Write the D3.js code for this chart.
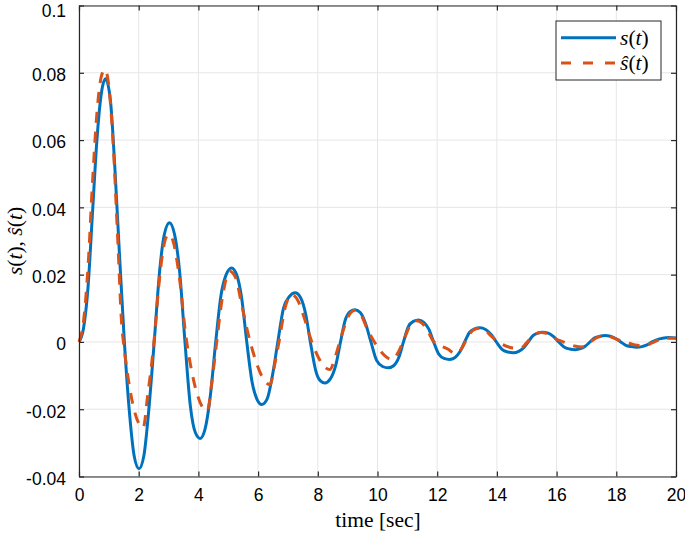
<!DOCTYPE html>
<html><head><meta charset="utf-8">
<script src="https://cdn.jsdelivr.net/npm/d3@7"></script>
<style>
body{margin:0;background:#fff;}
svg{display:block;}
</style></head>
<body>
<svg id="c" width="685" height="533"></svg>
<script>
// ---- data ----
const xTicks = [0,2,4,6,8,10,12,14,16,18,20];
const yTicks = [-0.04,-0.02,0,0.02,0.04,0.06,0.08,0.1];
const yTickLabels = ["-0.04","-0.02","0","0.02","0.04","0.06","0.08","0.1"];

const sT = [0,0.15,0.3,0.45,0.6,0.75,0.89,1.05,1.2,1.35,1.52,1.7,1.85,2.01,2.17,2.33,2.52,2.7,2.86,3.03,3.2,3.37,3.55,3.73,3.9,4.06,4.22,4.4,4.58,4.76,4.93,5.11,5.28,5.45,5.62,5.8,5.96,6.12,6.3,6.48,6.66,6.85,7.05,7.24,7.42,7.6,7.75,7.93,8.08,8.24,8.42,8.6,8.76,8.92,9.08,9.25,9.43,9.6,9.78,9.97,10.17,10.36,10.55,10.72,10.87,11.03,11.2,11.37,11.55,11.72,11.88,12.05,12.23,12.41,12.6,12.77,12.92,13.08,13.25,13.43,13.62,13.8,13.98,14.17,14.37,14.55,14.73,14.9,15.05,15.2,15.36,15.53,15.72,15.9,16.07,16.25,16.44,16.62,16.8,16.97,17.12,17.28,17.45,17.62,17.8,17.98,18.15,18.32,18.5,18.68,18.86,19.03,19.2,19.37,19.55,19.75,20];
const sV = [0,0.004,0.016,0.038,0.060,0.074,0.0782,0.072,0.052,0.027,0,-0.022,-0.034,-0.0377,-0.034,-0.021,0,0.021,0.032,0.0354,0.032,0.021,0,-0.019,-0.027,-0.0287,-0.026,-0.016,0,0.014,0.020,0.022,0.020,0.013,0,-0.012,-0.017,-0.0186,-0.017,-0.010,0,0.010,0.0135,0.0146,0.0132,0.008,0,-0.0085,-0.0115,-0.0122,-0.011,-0.007,0,0.0065,0.009,0.0096,0.0087,0.0055,0,-0.0055,-0.0073,-0.0077,-0.007,-0.0045,0,0.0045,0.0061,0.0065,0.0058,0.0038,0,-0.0036,-0.0049,-0.0052,-0.0046,-0.0028,0,0.0028,0.0039,0.0042,0.0037,0.0023,0,-0.0022,-0.003,-0.0032,-0.0028,-0.0017,0,0.0018,0.0026,0.0029,0.0026,0.0016,0,-0.0015,-0.0021,-0.0023,-0.002,-0.0012,0,0.0012,0.0017,0.0019,0.0017,0.001,0,-0.001,-0.0014,-0.0016,-0.0014,-0.0009,0,0.0007,0.0011,0.0013,0.0012];

const shT = [0,0.15,0.3,0.45,0.6,0.75,0.87,1.0,1.15,1.3,1.45,2.15,2.3,2.5,2.7,2.85,3.0,3.15,3.35,3.6,4.3,4.45,4.6,4.8,5.05,5.25,5.45,5.72,6.4,6.55,6.7,6.9,7.12,7.35,7.55,7.8,8.4,8.6,8.8,9.05,9.25,9.45,9.65,9.86,10.5,10.7,10.9,11.1,11.3,11.5,11.7,11.87,12.37,12.6,12.8,13.0,13.2,13.4,13.6,13.8,14.05,14.6,14.8,15.0,15.25,15.5,15.75,16.0,16.2,16.6,16.85,17.1,17.35,17.62,17.85,18.1,18.3,18.7,18.95,19.2,19.45,19.7,20];
const shV = [0,0.006,0.022,0.047,0.068,0.079,0.081,0.076,0.058,0.030,0.003,-0.0255,-0.016,-0.001,0.019,0.029,0.032,0.030,0.020,0.0005,-0.0205,-0.012,-0.001,0.013,0.021,0.019,0.011,0.0005,-0.0127,-0.007,0,0.010,0.0141,0.012,0.007,0.0,-0.0082,-0.004,0.002,0.008,0.0094,0.008,0.004,0.0005,-0.0052,-0.003,0.001,0.005,0.0063,0.0055,0.003,0.0002,-0.0022,-0.0035,-0.0022,0.001,0.0035,0.0041,0.0035,0.0018,0.0,-0.0018,-0.0018,-0.0002,0.0022,0.0028,0.0022,0.0008,0.0001,-0.0012,-0.0015,-0.0002,0.0013,0.0018,0.0014,0.0005,0.0,-0.001,-0.0011,-0.0003,0.0007,0.0011,0.0011];

// ---- layout ----
const L=79, R=676, T=5.5, B=476.5;
const svg = d3.select("#c");
const x = d3.scaleLinear().domain([0,20]).range([L,R]);
const y = d3.scaleLinear().domain([-0.04,0.1]).range([B,T]);
const axisColor = "#262626";

// grid
const g = svg.append("g");
g.selectAll(".gx").data(xTicks).join("line")
  .attr("x1",d=>x(d)).attr("x2",d=>x(d)).attr("y1",T).attr("y2",B)
  .attr("stroke","#e6e6e6").attr("stroke-width",1);
g.selectAll(".gy").data(yTicks).join("line")
  .attr("x1",L).attr("x2",R).attr("y1",d=>y(d)).attr("y2",d=>y(d))
  .attr("stroke","#e6e6e6").attr("stroke-width",1);

// lines
const sData = sT.map((t,i)=>[t,sV[i]]);
const shData = shT.map((t,i)=>[t,shV[i]]);
const line = d3.line().x(d=>x(d[0])).y(d=>y(d[1])).curve(d3.curveMonotoneX);
svg.append("path").attr("d",line(sData)).attr("fill","none")
  .attr("stroke","#0072BD").attr("stroke-width",3).attr("stroke-linejoin","round");
svg.append("path").attr("d",line(shData)).attr("fill","none")
  .attr("stroke","#D95319").attr("stroke-width",3).attr("stroke-dasharray","11,9");

// axes (MATLAB style: ticks inside, box)
const fontTick = "'Liberation Sans', Arial, Helvetica, sans-serif";
const ax = d3.axisBottom(x).tickValues(xTicks).tickSizeInner(-5).tickSizeOuter(0).tickPadding(12).tickFormat(d3.format("d"));
svg.append("g").attr("transform",`translate(0,${B})`).call(ax);
const ay = d3.axisLeft(y).tickValues(yTicks).tickSizeInner(-5).tickSizeOuter(0).tickPadding(13)
  .tickFormat((d,i)=>yTickLabels[i]);
const gyA = svg.append("g").attr("transform",`translate(${L},0)`).call(ay);
gyA.selectAll(".tick text").attr("dy",d=>d===0.1?"0.6em":"0.45em");
const axTop = d3.axisTop(x).tickValues(xTicks).tickSizeInner(-5).tickSizeOuter(0).tickFormat("");
svg.append("g").attr("transform",`translate(0,${T})`).call(axTop);
const ayR = d3.axisRight(y).tickValues(yTicks).tickSizeInner(-5).tickSizeOuter(0).tickFormat("");
svg.append("g").attr("transform",`translate(${R},0)`).call(ayR);
svg.selectAll(".domain").attr("stroke",axisColor).attr("stroke-width",1.2);
svg.selectAll(".tick line").attr("stroke",axisColor).attr("stroke-width",1.2);
svg.selectAll(".tick text").attr("fill","#000").style("font-family",fontTick).style("font-size","17.5px");

// axis labels
const serif = "'Liberation Serif', 'Times New Roman', serif";
svg.append("text").attr("x",378).attr("y",527).attr("text-anchor","middle")
  .style("font-family",serif).style("font-size","21.5px").text("time [sec]");
const yl = svg.append("text").attr("transform",`translate(22,${(T+B)/2}) rotate(-90)`)
  .attr("text-anchor","middle").style("font-family",serif).style("font-size","21.5px");
yl.append("tspan").style("font-style","italic").text("s");
yl.append("tspan").text("(");
yl.append("tspan").style("font-style","italic").text("t");
yl.append("tspan").text("), ");
yl.append("tspan").style("font-style","italic").text("ŝ");
yl.append("tspan").text("(");
yl.append("tspan").style("font-style","italic").text("t");
yl.append("tspan").text(")");

// legend
const leg = svg.append("g");
leg.append("rect").attr("x",556).attr("y",21).attr("width",105).attr("height",59)
  .attr("fill","#fff").attr("stroke",axisColor).attr("stroke-width",1);
const legItems = [{name:["s","(","t",")"], color:"#0072BD", dash:null, yy:37.7},
                  {name:["ŝ","(","t",")"], color:"#D95319", dash:"10,12", yy:63}];
legItems.forEach(it=>{
  leg.append("line").attr("x1",561).attr("x2",616).attr("y1",it.yy).attr("y2",it.yy)
    .attr("stroke",it.color).attr("stroke-width",3).attr("stroke-dasharray",it.dash);
  const t = leg.append("text").attr("x",620).attr("y",it.yy+7)
    .style("font-family",serif).style("font-size","21.5px");
  it.name.forEach((s,i)=>t.append("tspan").style("font-style",(i===0||i===2)?"italic":"normal").text(s));
});
</script>
</body></html>
